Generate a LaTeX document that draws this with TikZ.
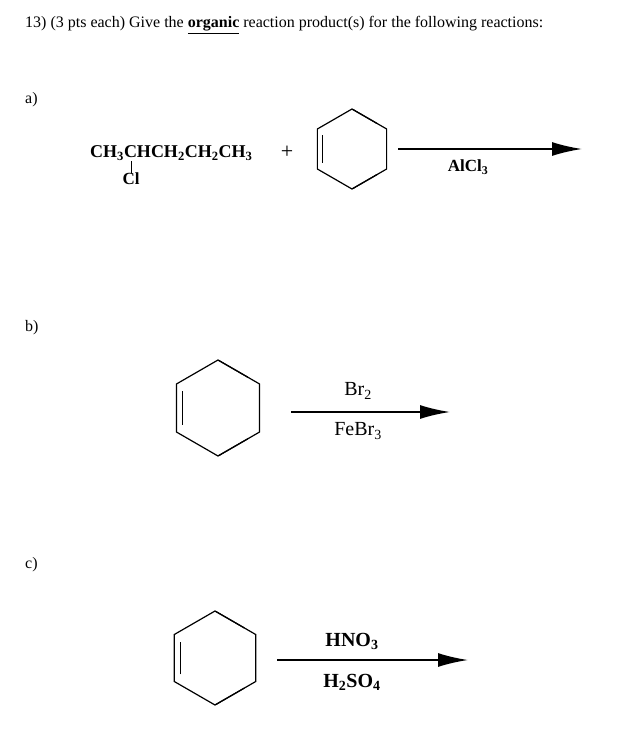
\documentclass[tikz,border=0pt]{standalone}
\usepackage{fontspec}
\setmainfont{Liberation Serif}
\usetikzlibrary{arrows.meta,calc}
\newcommand{\sbs}[1]{\textsubscript{#1}}
\begin{document}
\begin{tikzpicture}[x=1pt,y=-1pt,
  bond/.style={line width=1.2pt},
  rxn/.style={line width=1.8pt,-{Latex[length=30pt,width=14pt]}},
  lbl/.style={inner sep=0pt,anchor=west,font=\fontsize{16}{18}\selectfont},
  benz/.pic={
  \foreach \i in {0,...,5}{\coordinate (-v\i) at (90+60*\i:\r);}
  \draw[bond] (-v0)--(-v1)--(-v2)--(-v3)--(-v4)--(-v5)--cycle;
  \draw[bond] ($(-v1)!0.15!(-v2)+(0.13*\r,0)$) -- ($(-v1)!0.85!(-v2)+(0.13*\r,0)$);
  \draw[bond] ($(-v5)!0.15!(-v0)+({-0.13*\r*cos(30)},{0.13*\r*sin(30)})$) -- ($(-v5)!0.85!(-v0)+({-0.13*\r*cos(30)},{0.13*\r*sin(30)})$);
  \draw[bond] ($(-v3)!0.15!(-v4)+({-0.13*\r*cos(30)},{-0.13*\r*sin(30)})$) -- ($(-v3)!0.85!(-v4)+({-0.13*\r*cos(30)},{-0.13*\r*sin(30)})$);
  }]
\useasboundingbox (0,0) rectangle (630,754);
\node[lbl] (title) at (25,25) {13) (3 pts each) Give the \textbf{\underline{organic}} reaction product(s) for the following reactions:};
\node[lbl] (la) at (25,100) {a)};
\node[lbl] (lb) at (25,328) {b)};
\node[lbl] (lc) at (25,565) {c)};
% a
\node[inner sep=0pt,anchor=base west,font=\bfseries\fontsize{18}{20}\selectfont] (fa) at (90,158) {CH\sbs{3}CHCH\sbs{2}CH\sbs{2}CH\sbs{3}};
\node[inner sep=0pt,font=\bfseries\fontsize{17}{19}\selectfont] (cl) at (131,179) {Cl};
\draw[line width=0.8pt] (131,161) -- (cl.north);
\node[inner sep=0pt,font=\fontsize{22}{24}\selectfont] (plus) at (287,152) {+};
\def\r{40}
\pic (ba) at (352,149) {benz};
\coordinate (a1) at (398,149); \coordinate (a2) at (582,149);
\draw[rxn] (a1) -- (a2);
\node[inner sep=0pt,font=\bfseries\fontsize{17}{19}\selectfont] (alcl) at (468,167) {AlCl\sbs{3}};
% b
\def\r{48}
\pic (bb) at (218,408) {benz};
\coordinate (b1) at (291,412); \coordinate (b2) at (450,412);
\draw[rxn] (b1) -- (b2);
\node[inner sep=0pt,font=\fontsize{20}{22}\selectfont] (br) at (358,391) {Br\sbs{2}};
\node[inner sep=0pt,font=\fontsize{20}{22}\selectfont] (febr) at (358,431) {FeBr\sbs{3}};
% c
\def\r{47}
\pic (bc) at (215,658) {benz};
\coordinate (c1) at (277,660); \coordinate (c2) at (468,660);
\draw[rxn] (c1) -- (c2);
\node[inner sep=0pt,font=\bfseries\fontsize{20}{22}\selectfont] (hno) at (352,641) {HNO\sbs{3}};
\node[inner sep=0pt,font=\bfseries\fontsize{20}{22}\selectfont] (hso) at (352,682) {H\sbs{2}SO\sbs{4}};
\end{tikzpicture}
\end{document}
